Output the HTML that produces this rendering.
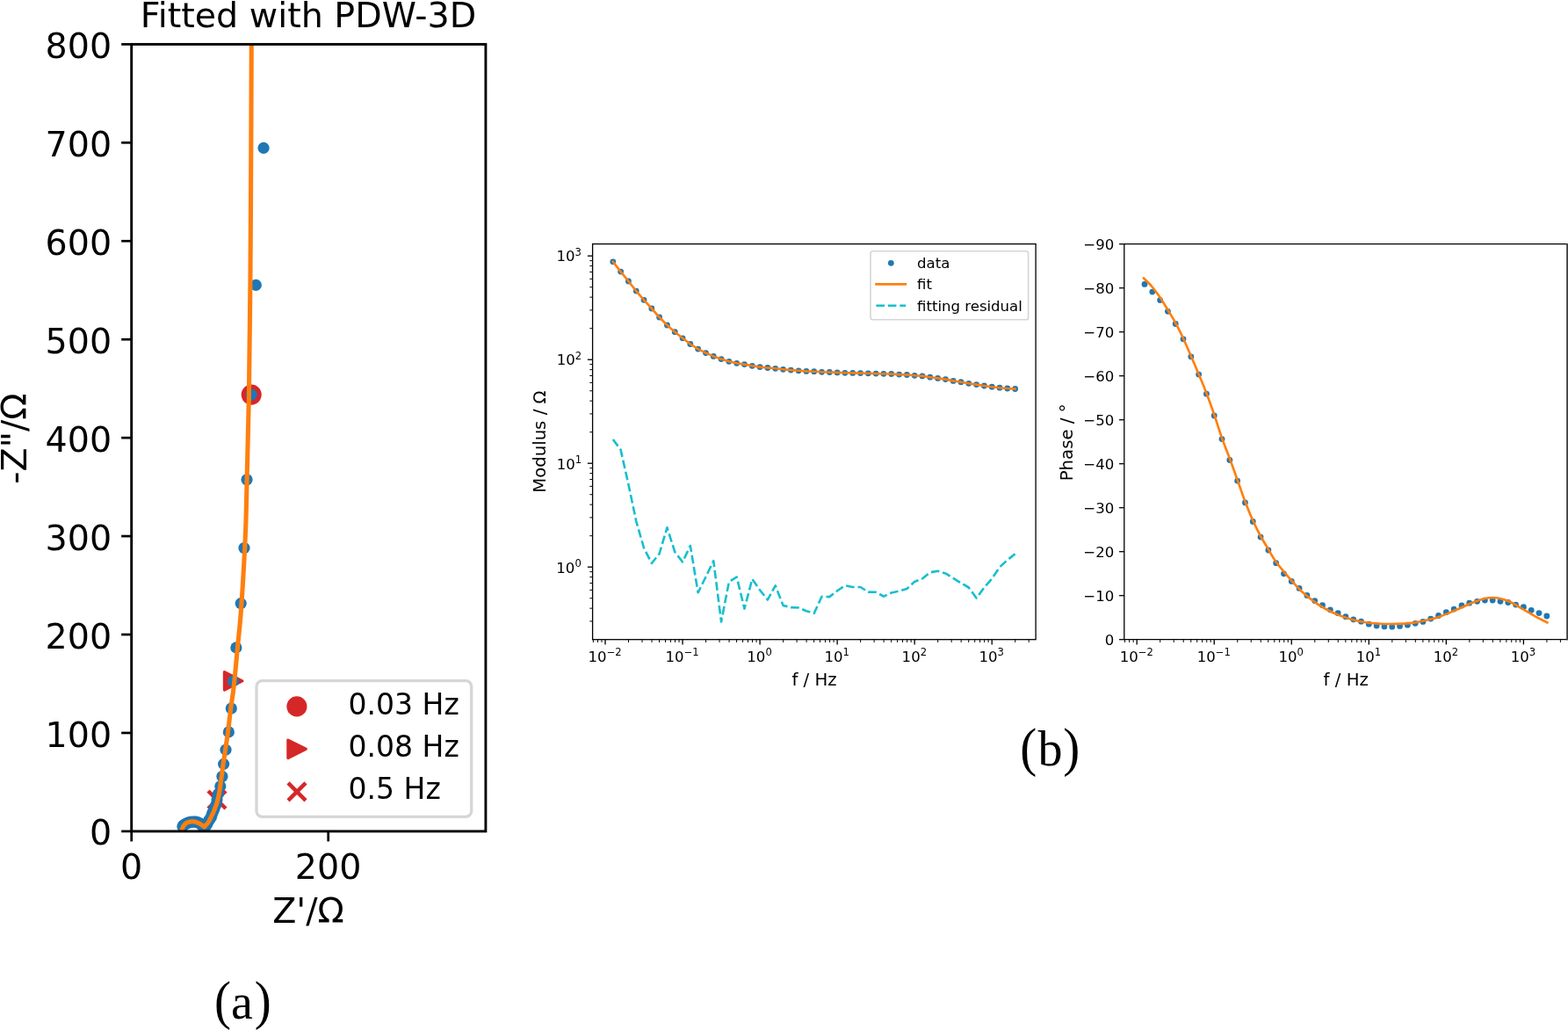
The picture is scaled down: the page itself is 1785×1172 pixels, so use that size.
<!DOCTYPE html>
<html><head><meta charset="utf-8"><title>Fitted with PDW-3D</title>
<style>html,body{margin:0;padding:0;background:#fff;}svg{display:block;}</style></head>
<body><svg width="1785" height="1172" viewBox="0 0 1785 1172">
<rect width="1785" height="1172" fill="#fff"/>
<defs>
<clipPath id="clipA"><rect x="149.7" y="50.4" width="403.2" height="895.5"/></clipPath>
<clipPath id="clipB1"><rect x="674.6" y="277.6" width="504.5" height="450.1"/></clipPath>
<clipPath id="clipB2"><rect x="1279.8000000000002" y="277.6" width="504.5" height="450.1"/></clipPath>
</defs>
<g clip-path="url(#clipA)">
<circle cx="286.2" cy="449.1" r="11.55" fill="#d62728"/>
<polygon points="255.5,764.7 255.5,785.1 275.8,774.9" fill="#d62728" stroke="#d62728" stroke-width="3.3" stroke-linejoin="round"/>
<line x1="237" y1="900" x2="257" y2="920" stroke="#d62728" stroke-width="4.4" />
<line x1="237" y1="920" x2="257" y2="900" stroke="#d62728" stroke-width="4.4" />
<circle cx="306.11" cy="-25.71" r="6.6" fill="#1f77b4"/>
<circle cx="300.05" cy="168.4" r="6.6" fill="#1f77b4"/>
<circle cx="291.3" cy="324.4" r="6.6" fill="#1f77b4"/>
<circle cx="286.2" cy="449.1" r="6.6" fill="#1f77b4"/>
<circle cx="281.02" cy="545.76" r="6.6" fill="#1f77b4"/>
<circle cx="278" cy="623.5" r="6.6" fill="#1f77b4"/>
<circle cx="274.2" cy="686.6" r="6.6" fill="#1f77b4"/>
<circle cx="268.87" cy="736.92" r="6.6" fill="#1f77b4"/>
<circle cx="265.6" cy="774.9" r="6.6" fill="#1f77b4"/>
<circle cx="263.31" cy="805.98" r="6.6" fill="#1f77b4"/>
<circle cx="260.35" cy="832.89" r="6.6" fill="#1f77b4"/>
<circle cx="257" cy="853.2" r="6.6" fill="#1f77b4"/>
<circle cx="254.63" cy="869.37" r="6.6" fill="#1f77b4"/>
<circle cx="252.92" cy="883.52" r="6.6" fill="#1f77b4"/>
<circle cx="250.81" cy="894.76" r="6.6" fill="#1f77b4"/>
<circle cx="248.42" cy="903.37" r="6.6" fill="#1f77b4"/>
<circle cx="247" cy="910" r="6.6" fill="#1f77b4"/>
<circle cx="245.89" cy="915.77" r="6.6" fill="#1f77b4"/>
<circle cx="243.9" cy="920.71" r="6.6" fill="#1f77b4"/>
<circle cx="242.23" cy="924.11" r="6.6" fill="#1f77b4"/>
<circle cx="241.18" cy="927.03" r="6.6" fill="#1f77b4"/>
<circle cx="240.26" cy="929.88" r="6.6" fill="#1f77b4"/>
<circle cx="238.82" cy="932.08" r="6.6" fill="#1f77b4"/>
<circle cx="237.67" cy="933.86" r="6.6" fill="#1f77b4"/>
<circle cx="236.67" cy="935.57" r="6.6" fill="#1f77b4"/>
<circle cx="235.79" cy="936.86" r="6.6" fill="#1f77b4"/>
<circle cx="235.41" cy="938.1" r="6.6" fill="#1f77b4"/>
<circle cx="234.49" cy="939.11" r="6.6" fill="#1f77b4"/>
<circle cx="234.21" cy="939.85" r="6.6" fill="#1f77b4"/>
<circle cx="233.61" cy="940.77" r="6.6" fill="#1f77b4"/>
<circle cx="232.99" cy="941.33" r="6.6" fill="#1f77b4"/>
<circle cx="232.84" cy="941.6" r="6.6" fill="#1f77b4"/>
<circle cx="232.52" cy="941.71" r="6.6" fill="#1f77b4"/>
<circle cx="232.19" cy="941.49" r="6.6" fill="#1f77b4"/>
<circle cx="231.69" cy="941.18" r="6.6" fill="#1f77b4"/>
<circle cx="231.34" cy="940.65" r="6.6" fill="#1f77b4"/>
<circle cx="230.98" cy="940.13" r="6.6" fill="#1f77b4"/>
<circle cx="229.96" cy="939.28" r="6.6" fill="#1f77b4"/>
<circle cx="229.25" cy="938.33" r="6.6" fill="#1f77b4"/>
<circle cx="227.91" cy="937.41" r="6.6" fill="#1f77b4"/>
<circle cx="226.89" cy="936.54" r="6.6" fill="#1f77b4"/>
<circle cx="224.82" cy="935.7" r="6.6" fill="#1f77b4"/>
<circle cx="222.98" cy="935.22" r="6.6" fill="#1f77b4"/>
<circle cx="221.21" cy="934.99" r="6.6" fill="#1f77b4"/>
<circle cx="218.7" cy="935.08" r="6.6" fill="#1f77b4"/>
<circle cx="216.97" cy="935.35" r="6.6" fill="#1f77b4"/>
<circle cx="214.95" cy="935.94" r="6.6" fill="#1f77b4"/>
<circle cx="213.35" cy="936.46" r="6.6" fill="#1f77b4"/>
<circle cx="211.72" cy="937.28" r="6.6" fill="#1f77b4"/>
<circle cx="210.36" cy="938.03" r="6.6" fill="#1f77b4"/>
<circle cx="209.28" cy="938.93" r="6.6" fill="#1f77b4"/>
<circle cx="208.43" cy="939.71" r="6.6" fill="#1f77b4"/>
<circle cx="207.93" cy="940.46" r="6.6" fill="#1f77b4"/>
<path d="M206.9,948 C206.95,947.42 206.93,945.78 207.2,944.5 C207.47,943.22 207.95,941.42 208.5,940.3 C209.05,939.18 209.75,938.5 210.5,937.8 C211.25,937.1 212.17,936.53 213,936.1 C213.83,935.67 214.67,935.42 215.5,935.2 C216.33,934.98 217.23,934.88 218,934.8 C218.77,934.72 219.35,934.62 220.1,934.7 C220.85,934.78 221.72,935.07 222.5,935.3 C223.28,935.53 224.05,935.8 224.8,936.1 C225.55,936.4 226.3,936.73 227,937.1 C227.7,937.47 228.33,937.87 229,938.3 C229.67,938.73 230.38,939.27 231,939.7 C231.62,940.13 232.42,940.7 232.7,940.9 C233.08,940.45 234.18,939.18 235,938.2 C235.82,937.22 236.73,936.4 237.6,935 C238.47,933.6 239.33,931.53 240.2,929.8 C241.07,928.07 242,926.43 242.8,924.6 C243.6,922.77 244.28,920.73 245,918.8 C245.72,916.87 246.32,915.88 247.1,913 C247.88,910.12 249,905.33 249.7,901.5 C250.4,897.67 250.78,893.58 251.3,890 C251.82,886.42 252.33,883.42 252.8,880 C253.27,876.58 253.48,873.93 254.1,869.5 C254.72,865.07 255.6,859.47 256.5,853.4 C257.4,847.33 258.47,840.95 259.5,833.1 C260.53,825.25 261.57,815.15 262.7,806.3 C263.83,797.45 264.98,791.88 266.3,780 C267.62,768.12 269.32,748.33 270.6,735 C271.88,721.67 272.9,714 274,700 C275.1,686 276.25,667.67 277.2,651 C278.15,634.33 279.05,617.5 279.7,600 C280.35,582.5 280.48,571 281.1,546 C281.72,521 282.77,486.83 283.4,450 C284.03,413.17 284.5,371.67 284.9,325 C285.3,278.33 285.57,217.5 285.8,170 C286.03,122.5 286.22,61.67 286.3,40" fill="none" stroke="#ff7f0e" stroke-width="5.1" stroke-linejoin="round"/>
</g>
<rect x="292.0" y="774.6" width="244.7" height="154.8" rx="6.6" ry="6.6" fill="#fff" fill-opacity="0.8" stroke="#d6d6d6" stroke-width="3.3"/>
<circle cx="337.9" cy="803.9" r="11.55" fill="#d62728"/>
<polygon points="327.9,842.1 327.9,862.5 348.2,852.3" fill="#d62728" stroke="#d62728" stroke-width="3.3" stroke-linejoin="round"/>
<line x1="328" y1="890.9" x2="348" y2="910.9" stroke="#d62728" stroke-width="4.4" />
<line x1="328" y1="910.9" x2="348" y2="890.9" stroke="#d62728" stroke-width="4.4" />
<text x="396.62" y="812.8" font-size="33" font-family="'DejaVu Sans', sans-serif" text-anchor="start" >0.03 Hz</text>
<text x="396.62" y="860.8" font-size="33" font-family="'DejaVu Sans', sans-serif" text-anchor="start" >0.08 Hz</text>
<text x="396.62" y="909.3" font-size="33" font-family="'DejaVu Sans', sans-serif" text-anchor="start" >0.5 Hz</text>
<rect x="149.7" y="50.4" width="403.2" height="895.5" fill="none" stroke="#000" stroke-width="2.9" stroke-linejoin="miter" stroke-linecap="square"/>
<line x1="138.15" y1="945.9" x2="149.7" y2="945.9" stroke="#000" stroke-width="2.7" />
<text x="101.93" y="961.45" font-size="39.6" font-family="'DejaVu Sans', sans-serif" text-anchor="start" >0</text>
<line x1="138.15" y1="833.96" x2="149.7" y2="833.96" stroke="#000" stroke-width="2.7" />
<text x="51.55" y="849.52" font-size="39.6" font-family="'DejaVu Sans', sans-serif" text-anchor="start" >100</text>
<line x1="138.15" y1="722.02" x2="149.7" y2="722.02" stroke="#000" stroke-width="2.7" />
<text x="51.55" y="737.58" font-size="39.6" font-family="'DejaVu Sans', sans-serif" text-anchor="start" >200</text>
<line x1="138.15" y1="610.09" x2="149.7" y2="610.09" stroke="#000" stroke-width="2.7" />
<text x="51.55" y="625.64" font-size="39.6" font-family="'DejaVu Sans', sans-serif" text-anchor="start" >300</text>
<line x1="138.15" y1="498.15" x2="149.7" y2="498.15" stroke="#000" stroke-width="2.7" />
<text x="51.55" y="513.7" font-size="39.6" font-family="'DejaVu Sans', sans-serif" text-anchor="start" >400</text>
<line x1="138.15" y1="386.21" x2="149.7" y2="386.21" stroke="#000" stroke-width="2.7" />
<text x="51.55" y="401.77" font-size="39.6" font-family="'DejaVu Sans', sans-serif" text-anchor="start" >500</text>
<line x1="138.15" y1="274.27" x2="149.7" y2="274.27" stroke="#000" stroke-width="2.7" />
<text x="51.55" y="289.83" font-size="39.6" font-family="'DejaVu Sans', sans-serif" text-anchor="start" >600</text>
<line x1="138.15" y1="162.34" x2="149.7" y2="162.34" stroke="#000" stroke-width="2.7" />
<text x="51.55" y="177.89" font-size="39.6" font-family="'DejaVu Sans', sans-serif" text-anchor="start" >700</text>
<line x1="138.15" y1="50.4" x2="149.7" y2="50.4" stroke="#000" stroke-width="2.7" />
<text x="51.55" y="65.95" font-size="39.6" font-family="'DejaVu Sans', sans-serif" text-anchor="start" >800</text>
<line x1="149.7" y1="945.9" x2="149.7" y2="957.45" stroke="#000" stroke-width="2.7" />
<text x="137.11" y="999.7" font-size="39.6" font-family="'DejaVu Sans', sans-serif" text-anchor="start" >0</text>
<line x1="373.7" y1="945.9" x2="373.7" y2="957.45" stroke="#000" stroke-width="2.7" />
<text x="335.77" y="999.7" font-size="39.6" font-family="'DejaVu Sans', sans-serif" text-anchor="start" >200</text>
<text x="310.16" y="1049.8" font-size="39.6" font-family="'DejaVu Sans', sans-serif" text-anchor="start" >Z'/Ω</text>
<text transform="translate(30.1,550.68) rotate(-90)" font-size="39.6" font-family="'DejaVu Sans', sans-serif">-Z&quot;/Ω</text>
<text x="159.81" y="30.6" font-size="39.6" font-family="'DejaVu Sans', sans-serif" text-anchor="start" >Fitted with PDW-3D</text>
<g clip-path="url(#clipB1)">
<circle cx="697.8" cy="297.8" r="3.4" fill="#1f77b4"/>
<circle cx="706.61" cy="309.1" r="3.4" fill="#1f77b4"/>
<circle cx="715.41" cy="320" r="3.4" fill="#1f77b4"/>
<circle cx="724.22" cy="331.1" r="3.4" fill="#1f77b4"/>
<circle cx="733.02" cy="341.3" r="3.4" fill="#1f77b4"/>
<circle cx="741.82" cy="351" r="3.4" fill="#1f77b4"/>
<circle cx="750.63" cy="361" r="3.4" fill="#1f77b4"/>
<circle cx="759.43" cy="370" r="3.4" fill="#1f77b4"/>
<circle cx="768.24" cy="377.7" r="3.4" fill="#1f77b4"/>
<circle cx="777.04" cy="384.8" r="3.4" fill="#1f77b4"/>
<circle cx="785.84" cy="391.5" r="3.4" fill="#1f77b4"/>
<circle cx="794.65" cy="397.1" r="3.4" fill="#1f77b4"/>
<circle cx="803.45" cy="401.6" r="3.4" fill="#1f77b4"/>
<circle cx="812.26" cy="405.4" r="3.4" fill="#1f77b4"/>
<circle cx="821.06" cy="408.6" r="3.4" fill="#1f77b4"/>
<circle cx="829.86" cy="411.3" r="3.4" fill="#1f77b4"/>
<circle cx="838.67" cy="413.3" r="3.4" fill="#1f77b4"/>
<circle cx="847.47" cy="414.6" r="3.4" fill="#1f77b4"/>
<circle cx="856.28" cy="416.3" r="3.4" fill="#1f77b4"/>
<circle cx="865.08" cy="417.6" r="3.4" fill="#1f77b4"/>
<circle cx="873.88" cy="418.5" r="3.4" fill="#1f77b4"/>
<circle cx="882.69" cy="419.3" r="3.4" fill="#1f77b4"/>
<circle cx="891.49" cy="420.3" r="3.4" fill="#1f77b4"/>
<circle cx="900.3" cy="421.1" r="3.4" fill="#1f77b4"/>
<circle cx="909.1" cy="421.8" r="3.4" fill="#1f77b4"/>
<circle cx="917.9" cy="422.4" r="3.4" fill="#1f77b4"/>
<circle cx="926.71" cy="422.7" r="3.4" fill="#1f77b4"/>
<circle cx="935.51" cy="423.3" r="3.4" fill="#1f77b4"/>
<circle cx="944.32" cy="423.5" r="3.4" fill="#1f77b4"/>
<circle cx="953.12" cy="423.9" r="3.4" fill="#1f77b4"/>
<circle cx="961.92" cy="424.3" r="3.4" fill="#1f77b4"/>
<circle cx="970.73" cy="424.4" r="3.4" fill="#1f77b4"/>
<circle cx="979.53" cy="424.6" r="3.4" fill="#1f77b4"/>
<circle cx="988.34" cy="424.8" r="3.4" fill="#1f77b4"/>
<circle cx="997.14" cy="425.1" r="3.4" fill="#1f77b4"/>
<circle cx="1005.94" cy="425.3" r="3.4" fill="#1f77b4"/>
<circle cx="1014.75" cy="425.5" r="3.4" fill="#1f77b4"/>
<circle cx="1023.55" cy="426.1" r="3.4" fill="#1f77b4"/>
<circle cx="1032.36" cy="426.5" r="3.4" fill="#1f77b4"/>
<circle cx="1041.16" cy="427.3" r="3.4" fill="#1f77b4"/>
<circle cx="1049.96" cy="427.9" r="3.4" fill="#1f77b4"/>
<circle cx="1058.77" cy="429.2" r="3.4" fill="#1f77b4"/>
<circle cx="1067.57" cy="430.4" r="3.4" fill="#1f77b4"/>
<circle cx="1076.38" cy="431.6" r="3.4" fill="#1f77b4"/>
<circle cx="1085.18" cy="433.4" r="3.4" fill="#1f77b4"/>
<circle cx="1093.98" cy="434.7" r="3.4" fill="#1f77b4"/>
<circle cx="1102.79" cy="436.3" r="3.4" fill="#1f77b4"/>
<circle cx="1111.59" cy="437.6" r="3.4" fill="#1f77b4"/>
<circle cx="1120.4" cy="439" r="3.4" fill="#1f77b4"/>
<circle cx="1129.2" cy="440.2" r="3.4" fill="#1f77b4"/>
<circle cx="1138" cy="441.2" r="3.4" fill="#1f77b4"/>
<circle cx="1146.81" cy="442" r="3.4" fill="#1f77b4"/>
<circle cx="1155.61" cy="442.5" r="3.4" fill="#1f77b4"/>
<polyline points="697.8,297.8 706.61,309.1 715.41,320 724.22,331.1 733.02,341.3 741.82,351 750.63,361 759.43,370 768.24,377.7 777.04,384.8 785.84,391.5 794.65,397.1 803.45,401.6 812.26,405.4 821.06,408.6 829.86,411.3 838.67,413.3 847.47,414.6 856.28,416.3 865.08,417.6 873.88,418.5 882.69,419.3 891.49,420.3 900.3,421.1 909.1,421.8 917.9,422.4 926.71,422.7 935.51,423.3 944.32,423.5 953.12,423.9 961.92,424.3 970.73,424.4 979.53,424.6 988.34,424.8 997.14,425.1 1005.94,425.3 1014.75,425.5 1023.55,426.1 1032.36,426.5 1041.16,427.3 1049.96,427.9 1058.77,429.2 1067.57,430.4 1076.38,431.6 1085.18,433.4 1093.98,434.7 1102.79,436.3 1111.59,437.6 1120.4,439 1129.2,440.2 1138,441.2 1146.81,442 1155.61,442.5" fill="none" stroke="#ff7f0e" stroke-width="2.65" stroke-linejoin="round" stroke-linecap="square"/>
<polyline points="697.8,499.9 706.61,511.8 715.41,551 724.22,593 733.02,623.5 741.82,641 750.63,630 759.43,600.3 768.24,628 777.04,639.4 785.84,621 794.65,674.3 803.45,656.5 812.26,638.2 821.06,707.5 829.86,662.1 838.67,656.5 847.47,692.6 856.28,658.8 865.08,671.5 873.88,682.5 882.69,666.3 891.49,688.9 900.3,691.1 909.1,691.5 917.9,695.3 926.71,697.9 935.51,678.7 944.32,679.1 953.12,672.3 961.92,666.3 970.73,668 979.53,668 988.34,673.6 997.14,673.8 1005.94,678.6 1014.75,674.5 1023.55,672.5 1032.36,670 1041.16,661.9 1049.96,658.4 1058.77,651.3 1067.57,649.8 1076.38,652.4 1085.18,657.9 1093.98,663.4 1102.79,668.5 1111.59,680.6 1120.4,668.5 1129.2,658.4 1138,645.3 1146.81,637.2 1155.61,630.2" fill="none" stroke="#17becf" stroke-width="2.6" stroke-linejoin="round" stroke-dasharray="9.6 3.85"/>
</g>
<g clip-path="url(#clipB2)">
<circle cx="1303" cy="323.4" r="3.4" fill="#1f77b4"/>
<circle cx="1311.81" cy="332.1" r="3.4" fill="#1f77b4"/>
<circle cx="1320.61" cy="341.6" r="3.4" fill="#1f77b4"/>
<circle cx="1329.42" cy="354.3" r="3.4" fill="#1f77b4"/>
<circle cx="1338.22" cy="368.5" r="3.4" fill="#1f77b4"/>
<circle cx="1347.02" cy="385.8" r="3.4" fill="#1f77b4"/>
<circle cx="1355.83" cy="405.8" r="3.4" fill="#1f77b4"/>
<circle cx="1364.63" cy="426.1" r="3.4" fill="#1f77b4"/>
<circle cx="1373.44" cy="448.2" r="3.4" fill="#1f77b4"/>
<circle cx="1382.24" cy="473" r="3.4" fill="#1f77b4"/>
<circle cx="1391.04" cy="499.6" r="3.4" fill="#1f77b4"/>
<circle cx="1399.85" cy="523.5" r="3.4" fill="#1f77b4"/>
<circle cx="1408.65" cy="547.1" r="3.4" fill="#1f77b4"/>
<circle cx="1417.46" cy="571.9" r="3.4" fill="#1f77b4"/>
<circle cx="1426.26" cy="593.5" r="3.4" fill="#1f77b4"/>
<circle cx="1435.06" cy="611.1" r="3.4" fill="#1f77b4"/>
<circle cx="1443.87" cy="626" r="3.4" fill="#1f77b4"/>
<circle cx="1452.67" cy="640.7" r="3.4" fill="#1f77b4"/>
<circle cx="1461.48" cy="652.8" r="3.4" fill="#1f77b4"/>
<circle cx="1470.28" cy="661.4" r="3.4" fill="#1f77b4"/>
<circle cx="1479.08" cy="669.4" r="3.4" fill="#1f77b4"/>
<circle cx="1487.89" cy="677.5" r="3.4" fill="#1f77b4"/>
<circle cx="1496.69" cy="683.6" r="3.4" fill="#1f77b4"/>
<circle cx="1505.5" cy="688.7" r="3.4" fill="#1f77b4"/>
<circle cx="1514.3" cy="693.8" r="3.4" fill="#1f77b4"/>
<circle cx="1523.1" cy="697.7" r="3.4" fill="#1f77b4"/>
<circle cx="1531.91" cy="701.7" r="3.4" fill="#1f77b4"/>
<circle cx="1540.71" cy="704.8" r="3.4" fill="#1f77b4"/>
<circle cx="1549.52" cy="707.2" r="3.4" fill="#1f77b4"/>
<circle cx="1558.32" cy="710.2" r="3.4" fill="#1f77b4"/>
<circle cx="1567.12" cy="712" r="3.4" fill="#1f77b4"/>
<circle cx="1575.93" cy="712.9" r="3.4" fill="#1f77b4"/>
<circle cx="1584.73" cy="713.2" r="3.4" fill="#1f77b4"/>
<circle cx="1593.54" cy="712.4" r="3.4" fill="#1f77b4"/>
<circle cx="1602.34" cy="711.2" r="3.4" fill="#1f77b4"/>
<circle cx="1611.14" cy="709.3" r="3.4" fill="#1f77b4"/>
<circle cx="1619.95" cy="707.4" r="3.4" fill="#1f77b4"/>
<circle cx="1628.75" cy="704.1" r="3.4" fill="#1f77b4"/>
<circle cx="1637.56" cy="700.5" r="3.4" fill="#1f77b4"/>
<circle cx="1646.36" cy="696.7" r="3.4" fill="#1f77b4"/>
<circle cx="1655.16" cy="693.1" r="3.4" fill="#1f77b4"/>
<circle cx="1663.97" cy="689" r="3.4" fill="#1f77b4"/>
<circle cx="1672.77" cy="686.2" r="3.4" fill="#1f77b4"/>
<circle cx="1681.58" cy="684.3" r="3.4" fill="#1f77b4"/>
<circle cx="1690.38" cy="683.1" r="3.4" fill="#1f77b4"/>
<circle cx="1699.18" cy="683.1" r="3.4" fill="#1f77b4"/>
<circle cx="1707.99" cy="684.3" r="3.4" fill="#1f77b4"/>
<circle cx="1716.79" cy="685.5" r="3.4" fill="#1f77b4"/>
<circle cx="1725.6" cy="688.1" r="3.4" fill="#1f77b4"/>
<circle cx="1734.4" cy="690.7" r="3.4" fill="#1f77b4"/>
<circle cx="1743.2" cy="694.3" r="3.4" fill="#1f77b4"/>
<circle cx="1752.01" cy="697.6" r="3.4" fill="#1f77b4"/>
<circle cx="1760.81" cy="701" r="3.4" fill="#1f77b4"/>
<path d="M1302,316.5 C1303.55,318.08 1308.3,322.48 1311.3,326 C1314.3,329.52 1317.03,333.25 1320,337.6 C1322.97,341.95 1326.13,347.27 1329.1,352.1 C1332.07,356.93 1334.9,361.28 1337.8,366.6 C1340.7,371.92 1343.6,377.83 1346.5,384 C1349.4,390.17 1352.25,396.82 1355.2,403.6 C1358.15,410.38 1361.22,417.55 1364.2,424.7 C1367.18,431.85 1370.13,438.78 1373.1,446.5 C1376.07,454.22 1379.07,462.5 1382,471 C1384.93,479.5 1387.73,489.08 1390.7,497.5 C1393.67,505.92 1396.87,513.58 1399.8,521.5 C1402.73,529.42 1405.4,536.92 1408.3,545 C1411.2,553.08 1414.27,562.25 1417.2,570 C1420.13,577.75 1422.97,584.92 1425.9,591.5 C1428.83,598.08 1431.85,604 1434.8,609.5 C1437.75,615 1440.67,619.58 1443.6,624.5 C1446.53,629.42 1449,634.2 1452.4,639 C1455.8,643.8 1459.08,647.63 1464,653.3 C1468.92,658.97 1475.93,667.33 1481.9,673 C1487.87,678.67 1493.83,683.27 1499.8,687.3 C1505.77,691.33 1511.73,694.43 1517.7,697.2 C1523.67,699.97 1529.62,702.1 1535.6,703.9 C1541.58,705.7 1547.62,707.03 1553.6,708 C1559.58,708.97 1565.53,709.38 1571.5,709.7 C1577.47,710.02 1583.43,710.03 1589.4,709.9 C1595.37,709.77 1602.37,709.43 1607.3,708.9 C1612.23,708.37 1613.87,707.87 1619,706.7 C1624.13,705.53 1631.75,703.97 1638.1,701.9 C1644.45,699.83 1650.75,697 1657.1,694.3 C1663.45,691.6 1670.63,687.92 1676.2,685.7 C1681.77,683.48 1686.7,681.95 1690.5,681 C1694.3,680.05 1696.15,680 1699,680 C1701.85,680 1704.27,680.2 1707.6,681 C1710.93,681.8 1714.72,682.82 1719,684.8 C1723.28,686.78 1728.53,690.13 1733.3,692.9 C1738.07,695.67 1742.92,698.82 1747.6,701.4 C1752.28,703.98 1759.1,707.23 1761.4,708.4" fill="none" stroke="#ff7f0e" stroke-width="2.65" stroke-linejoin="round" stroke-linecap="square"/>
</g>
<rect x="991.0" y="285.75" width="179.6" height="77.95" rx="2.8" ry="2.8" fill="#fff" fill-opacity="0.8" stroke="#d6d6d6" stroke-width="1.64"/>
<circle cx="1014.3" cy="299.3" r="3.4" fill="#1f77b4"/>
<line x1="997.6" y1="323.4" x2="1030.8" y2="323.4" stroke="#ff7f0e" stroke-width="2.7" stroke-linecap="square"/>
<line x1="997.4" y1="347.7" x2="1031.2" y2="347.7" stroke="#17becf" stroke-width="2.6" stroke-dasharray="9.6 3.85"/>
<text x="1044.1" y="304.9" font-size="16.55" font-family="'DejaVu Sans', sans-serif" text-anchor="start" >data</text>
<text x="1044.1" y="329.2" font-size="16.55" font-family="'DejaVu Sans', sans-serif" text-anchor="start" >fit</text>
<text x="1044.1" y="353.5" font-size="16.55" font-family="'DejaVu Sans', sans-serif" text-anchor="start" >fitting residual</text>
<rect x="674.6" y="277.6" width="504.5" height="450.1" fill="none" stroke="#000" stroke-width="1.31" stroke-linejoin="miter" stroke-linecap="square"/>
<line x1="675.36" y1="727.7" x2="675.36" y2="730.98" stroke="#000" stroke-width="0.98" />
<line x1="680.47" y1="727.7" x2="680.47" y2="730.98" stroke="#000" stroke-width="0.98" />
<line x1="684.97" y1="727.7" x2="684.97" y2="730.98" stroke="#000" stroke-width="0.98" />
<line x1="689" y1="727.7" x2="689" y2="733.44" stroke="#000" stroke-width="1.31" />
<line x1="715.5" y1="727.7" x2="715.5" y2="730.98" stroke="#000" stroke-width="0.98" />
<line x1="731.01" y1="727.7" x2="731.01" y2="730.98" stroke="#000" stroke-width="0.98" />
<line x1="742.01" y1="727.7" x2="742.01" y2="730.98" stroke="#000" stroke-width="0.98" />
<line x1="750.54" y1="727.7" x2="750.54" y2="730.98" stroke="#000" stroke-width="0.98" />
<line x1="757.51" y1="727.7" x2="757.51" y2="730.98" stroke="#000" stroke-width="0.98" />
<line x1="763.4" y1="727.7" x2="763.4" y2="730.98" stroke="#000" stroke-width="0.98" />
<line x1="768.51" y1="727.7" x2="768.51" y2="730.98" stroke="#000" stroke-width="0.98" />
<line x1="773.01" y1="727.7" x2="773.01" y2="730.98" stroke="#000" stroke-width="0.98" />
<line x1="777.04" y1="727.7" x2="777.04" y2="733.44" stroke="#000" stroke-width="1.31" />
<line x1="803.54" y1="727.7" x2="803.54" y2="730.98" stroke="#000" stroke-width="0.98" />
<line x1="819.05" y1="727.7" x2="819.05" y2="730.98" stroke="#000" stroke-width="0.98" />
<line x1="830.05" y1="727.7" x2="830.05" y2="730.98" stroke="#000" stroke-width="0.98" />
<line x1="838.58" y1="727.7" x2="838.58" y2="730.98" stroke="#000" stroke-width="0.98" />
<line x1="845.55" y1="727.7" x2="845.55" y2="730.98" stroke="#000" stroke-width="0.98" />
<line x1="851.44" y1="727.7" x2="851.44" y2="730.98" stroke="#000" stroke-width="0.98" />
<line x1="856.55" y1="727.7" x2="856.55" y2="730.98" stroke="#000" stroke-width="0.98" />
<line x1="861.05" y1="727.7" x2="861.05" y2="730.98" stroke="#000" stroke-width="0.98" />
<line x1="865.08" y1="727.7" x2="865.08" y2="733.44" stroke="#000" stroke-width="1.31" />
<line x1="891.58" y1="727.7" x2="891.58" y2="730.98" stroke="#000" stroke-width="0.98" />
<line x1="907.09" y1="727.7" x2="907.09" y2="730.98" stroke="#000" stroke-width="0.98" />
<line x1="918.09" y1="727.7" x2="918.09" y2="730.98" stroke="#000" stroke-width="0.98" />
<line x1="926.62" y1="727.7" x2="926.62" y2="730.98" stroke="#000" stroke-width="0.98" />
<line x1="933.59" y1="727.7" x2="933.59" y2="730.98" stroke="#000" stroke-width="0.98" />
<line x1="939.48" y1="727.7" x2="939.48" y2="730.98" stroke="#000" stroke-width="0.98" />
<line x1="944.59" y1="727.7" x2="944.59" y2="730.98" stroke="#000" stroke-width="0.98" />
<line x1="949.09" y1="727.7" x2="949.09" y2="730.98" stroke="#000" stroke-width="0.98" />
<line x1="953.12" y1="727.7" x2="953.12" y2="733.44" stroke="#000" stroke-width="1.31" />
<line x1="979.62" y1="727.7" x2="979.62" y2="730.98" stroke="#000" stroke-width="0.98" />
<line x1="995.13" y1="727.7" x2="995.13" y2="730.98" stroke="#000" stroke-width="0.98" />
<line x1="1006.13" y1="727.7" x2="1006.13" y2="730.98" stroke="#000" stroke-width="0.98" />
<line x1="1014.66" y1="727.7" x2="1014.66" y2="730.98" stroke="#000" stroke-width="0.98" />
<line x1="1021.63" y1="727.7" x2="1021.63" y2="730.98" stroke="#000" stroke-width="0.98" />
<line x1="1027.52" y1="727.7" x2="1027.52" y2="730.98" stroke="#000" stroke-width="0.98" />
<line x1="1032.63" y1="727.7" x2="1032.63" y2="730.98" stroke="#000" stroke-width="0.98" />
<line x1="1037.13" y1="727.7" x2="1037.13" y2="730.98" stroke="#000" stroke-width="0.98" />
<line x1="1041.16" y1="727.7" x2="1041.16" y2="733.44" stroke="#000" stroke-width="1.31" />
<line x1="1067.66" y1="727.7" x2="1067.66" y2="730.98" stroke="#000" stroke-width="0.98" />
<line x1="1083.17" y1="727.7" x2="1083.17" y2="730.98" stroke="#000" stroke-width="0.98" />
<line x1="1094.17" y1="727.7" x2="1094.17" y2="730.98" stroke="#000" stroke-width="0.98" />
<line x1="1102.7" y1="727.7" x2="1102.7" y2="730.98" stroke="#000" stroke-width="0.98" />
<line x1="1109.67" y1="727.7" x2="1109.67" y2="730.98" stroke="#000" stroke-width="0.98" />
<line x1="1115.56" y1="727.7" x2="1115.56" y2="730.98" stroke="#000" stroke-width="0.98" />
<line x1="1120.67" y1="727.7" x2="1120.67" y2="730.98" stroke="#000" stroke-width="0.98" />
<line x1="1125.17" y1="727.7" x2="1125.17" y2="730.98" stroke="#000" stroke-width="0.98" />
<line x1="1129.2" y1="727.7" x2="1129.2" y2="733.44" stroke="#000" stroke-width="1.31" />
<line x1="1155.7" y1="727.7" x2="1155.7" y2="730.98" stroke="#000" stroke-width="0.98" />
<line x1="1171.21" y1="727.7" x2="1171.21" y2="730.98" stroke="#000" stroke-width="0.98" />
<text x="669.6" y="752.85" font-size="16.55" font-family="'DejaVu Sans', sans-serif">10<tspan dy="-6.6" font-size="11.58">−2</tspan></text>
<text x="757.6" y="752.85" font-size="16.55" font-family="'DejaVu Sans', sans-serif">10<tspan dy="-6.6" font-size="11.58">−1</tspan></text>
<text x="850.34" y="752.85" font-size="16.55" font-family="'DejaVu Sans', sans-serif">10<tspan dy="-6.6" font-size="11.58">0</tspan></text>
<text x="938.53" y="752.85" font-size="16.55" font-family="'DejaVu Sans', sans-serif">10<tspan dy="-6.6" font-size="11.58">1</tspan></text>
<text x="1026.62" y="752.85" font-size="16.55" font-family="'DejaVu Sans', sans-serif">10<tspan dy="-6.6" font-size="11.58">2</tspan></text>
<text x="1114.54" y="752.85" font-size="16.55" font-family="'DejaVu Sans', sans-serif">10<tspan dy="-6.6" font-size="11.58">3</tspan></text>
<text x="901.42" y="779.7" font-size="19.7" font-family="'DejaVu Sans', sans-serif" text-anchor="start" >f / Hz</text>
<path d="M1785,277.6 H1279.8 V727.7 H1785" fill="none" stroke="#000" stroke-width="1.31" stroke-linejoin="miter"/>
<line x1="1784.1" y1="276.95" x2="1784.1" y2="728.35" stroke="#404040" stroke-width="1.9" />
<line x1="1280.56" y1="727.7" x2="1280.56" y2="730.98" stroke="#000" stroke-width="0.98" />
<line x1="1285.67" y1="727.7" x2="1285.67" y2="730.98" stroke="#000" stroke-width="0.98" />
<line x1="1290.17" y1="727.7" x2="1290.17" y2="730.98" stroke="#000" stroke-width="0.98" />
<line x1="1294.2" y1="727.7" x2="1294.2" y2="733.44" stroke="#000" stroke-width="1.31" />
<line x1="1320.7" y1="727.7" x2="1320.7" y2="730.98" stroke="#000" stroke-width="0.98" />
<line x1="1336.21" y1="727.7" x2="1336.21" y2="730.98" stroke="#000" stroke-width="0.98" />
<line x1="1347.21" y1="727.7" x2="1347.21" y2="730.98" stroke="#000" stroke-width="0.98" />
<line x1="1355.74" y1="727.7" x2="1355.74" y2="730.98" stroke="#000" stroke-width="0.98" />
<line x1="1362.71" y1="727.7" x2="1362.71" y2="730.98" stroke="#000" stroke-width="0.98" />
<line x1="1368.6" y1="727.7" x2="1368.6" y2="730.98" stroke="#000" stroke-width="0.98" />
<line x1="1373.71" y1="727.7" x2="1373.71" y2="730.98" stroke="#000" stroke-width="0.98" />
<line x1="1378.21" y1="727.7" x2="1378.21" y2="730.98" stroke="#000" stroke-width="0.98" />
<line x1="1382.24" y1="727.7" x2="1382.24" y2="733.44" stroke="#000" stroke-width="1.31" />
<line x1="1408.74" y1="727.7" x2="1408.74" y2="730.98" stroke="#000" stroke-width="0.98" />
<line x1="1424.25" y1="727.7" x2="1424.25" y2="730.98" stroke="#000" stroke-width="0.98" />
<line x1="1435.25" y1="727.7" x2="1435.25" y2="730.98" stroke="#000" stroke-width="0.98" />
<line x1="1443.78" y1="727.7" x2="1443.78" y2="730.98" stroke="#000" stroke-width="0.98" />
<line x1="1450.75" y1="727.7" x2="1450.75" y2="730.98" stroke="#000" stroke-width="0.98" />
<line x1="1456.64" y1="727.7" x2="1456.64" y2="730.98" stroke="#000" stroke-width="0.98" />
<line x1="1461.75" y1="727.7" x2="1461.75" y2="730.98" stroke="#000" stroke-width="0.98" />
<line x1="1466.25" y1="727.7" x2="1466.25" y2="730.98" stroke="#000" stroke-width="0.98" />
<line x1="1470.28" y1="727.7" x2="1470.28" y2="733.44" stroke="#000" stroke-width="1.31" />
<line x1="1496.78" y1="727.7" x2="1496.78" y2="730.98" stroke="#000" stroke-width="0.98" />
<line x1="1512.29" y1="727.7" x2="1512.29" y2="730.98" stroke="#000" stroke-width="0.98" />
<line x1="1523.29" y1="727.7" x2="1523.29" y2="730.98" stroke="#000" stroke-width="0.98" />
<line x1="1531.82" y1="727.7" x2="1531.82" y2="730.98" stroke="#000" stroke-width="0.98" />
<line x1="1538.79" y1="727.7" x2="1538.79" y2="730.98" stroke="#000" stroke-width="0.98" />
<line x1="1544.68" y1="727.7" x2="1544.68" y2="730.98" stroke="#000" stroke-width="0.98" />
<line x1="1549.79" y1="727.7" x2="1549.79" y2="730.98" stroke="#000" stroke-width="0.98" />
<line x1="1554.29" y1="727.7" x2="1554.29" y2="730.98" stroke="#000" stroke-width="0.98" />
<line x1="1558.32" y1="727.7" x2="1558.32" y2="733.44" stroke="#000" stroke-width="1.31" />
<line x1="1584.82" y1="727.7" x2="1584.82" y2="730.98" stroke="#000" stroke-width="0.98" />
<line x1="1600.33" y1="727.7" x2="1600.33" y2="730.98" stroke="#000" stroke-width="0.98" />
<line x1="1611.33" y1="727.7" x2="1611.33" y2="730.98" stroke="#000" stroke-width="0.98" />
<line x1="1619.86" y1="727.7" x2="1619.86" y2="730.98" stroke="#000" stroke-width="0.98" />
<line x1="1626.83" y1="727.7" x2="1626.83" y2="730.98" stroke="#000" stroke-width="0.98" />
<line x1="1632.72" y1="727.7" x2="1632.72" y2="730.98" stroke="#000" stroke-width="0.98" />
<line x1="1637.83" y1="727.7" x2="1637.83" y2="730.98" stroke="#000" stroke-width="0.98" />
<line x1="1642.33" y1="727.7" x2="1642.33" y2="730.98" stroke="#000" stroke-width="0.98" />
<line x1="1646.36" y1="727.7" x2="1646.36" y2="733.44" stroke="#000" stroke-width="1.31" />
<line x1="1672.86" y1="727.7" x2="1672.86" y2="730.98" stroke="#000" stroke-width="0.98" />
<line x1="1688.37" y1="727.7" x2="1688.37" y2="730.98" stroke="#000" stroke-width="0.98" />
<line x1="1699.37" y1="727.7" x2="1699.37" y2="730.98" stroke="#000" stroke-width="0.98" />
<line x1="1707.9" y1="727.7" x2="1707.9" y2="730.98" stroke="#000" stroke-width="0.98" />
<line x1="1714.87" y1="727.7" x2="1714.87" y2="730.98" stroke="#000" stroke-width="0.98" />
<line x1="1720.76" y1="727.7" x2="1720.76" y2="730.98" stroke="#000" stroke-width="0.98" />
<line x1="1725.87" y1="727.7" x2="1725.87" y2="730.98" stroke="#000" stroke-width="0.98" />
<line x1="1730.37" y1="727.7" x2="1730.37" y2="730.98" stroke="#000" stroke-width="0.98" />
<line x1="1734.4" y1="727.7" x2="1734.4" y2="733.44" stroke="#000" stroke-width="1.31" />
<line x1="1760.9" y1="727.7" x2="1760.9" y2="730.98" stroke="#000" stroke-width="0.98" />
<line x1="1776.41" y1="727.7" x2="1776.41" y2="730.98" stroke="#000" stroke-width="0.98" />
<text x="1274.8" y="752.85" font-size="16.55" font-family="'DejaVu Sans', sans-serif">10<tspan dy="-6.6" font-size="11.58">−2</tspan></text>
<text x="1362.8" y="752.85" font-size="16.55" font-family="'DejaVu Sans', sans-serif">10<tspan dy="-6.6" font-size="11.58">−1</tspan></text>
<text x="1455.54" y="752.85" font-size="16.55" font-family="'DejaVu Sans', sans-serif">10<tspan dy="-6.6" font-size="11.58">0</tspan></text>
<text x="1543.73" y="752.85" font-size="16.55" font-family="'DejaVu Sans', sans-serif">10<tspan dy="-6.6" font-size="11.58">1</tspan></text>
<text x="1631.82" y="752.85" font-size="16.55" font-family="'DejaVu Sans', sans-serif">10<tspan dy="-6.6" font-size="11.58">2</tspan></text>
<text x="1719.74" y="752.85" font-size="16.55" font-family="'DejaVu Sans', sans-serif">10<tspan dy="-6.6" font-size="11.58">3</tspan></text>
<text x="1506.62" y="779.7" font-size="19.7" font-family="'DejaVu Sans', sans-serif" text-anchor="start" >f / Hz</text>
<line x1="671.32" y1="706.9" x2="674.6" y2="706.9" stroke="#000" stroke-width="0.98" />
<line x1="671.32" y1="692.16" x2="674.6" y2="692.16" stroke="#000" stroke-width="0.98" />
<line x1="671.32" y1="680.72" x2="674.6" y2="680.72" stroke="#000" stroke-width="0.98" />
<line x1="671.32" y1="671.38" x2="674.6" y2="671.38" stroke="#000" stroke-width="0.98" />
<line x1="671.32" y1="663.48" x2="674.6" y2="663.48" stroke="#000" stroke-width="0.98" />
<line x1="671.32" y1="656.64" x2="674.6" y2="656.64" stroke="#000" stroke-width="0.98" />
<line x1="671.32" y1="650.6" x2="674.6" y2="650.6" stroke="#000" stroke-width="0.98" />
<line x1="668.86" y1="645.2" x2="674.6" y2="645.2" stroke="#000" stroke-width="1.31" />
<line x1="671.32" y1="609.68" x2="674.6" y2="609.68" stroke="#000" stroke-width="0.98" />
<line x1="671.32" y1="588.9" x2="674.6" y2="588.9" stroke="#000" stroke-width="0.98" />
<line x1="671.32" y1="574.16" x2="674.6" y2="574.16" stroke="#000" stroke-width="0.98" />
<line x1="671.32" y1="562.72" x2="674.6" y2="562.72" stroke="#000" stroke-width="0.98" />
<line x1="671.32" y1="553.38" x2="674.6" y2="553.38" stroke="#000" stroke-width="0.98" />
<line x1="671.32" y1="545.48" x2="674.6" y2="545.48" stroke="#000" stroke-width="0.98" />
<line x1="671.32" y1="538.64" x2="674.6" y2="538.64" stroke="#000" stroke-width="0.98" />
<line x1="671.32" y1="532.6" x2="674.6" y2="532.6" stroke="#000" stroke-width="0.98" />
<line x1="668.86" y1="527.2" x2="674.6" y2="527.2" stroke="#000" stroke-width="1.31" />
<line x1="671.32" y1="491.68" x2="674.6" y2="491.68" stroke="#000" stroke-width="0.98" />
<line x1="671.32" y1="470.9" x2="674.6" y2="470.9" stroke="#000" stroke-width="0.98" />
<line x1="671.32" y1="456.16" x2="674.6" y2="456.16" stroke="#000" stroke-width="0.98" />
<line x1="671.32" y1="444.72" x2="674.6" y2="444.72" stroke="#000" stroke-width="0.98" />
<line x1="671.32" y1="435.38" x2="674.6" y2="435.38" stroke="#000" stroke-width="0.98" />
<line x1="671.32" y1="427.48" x2="674.6" y2="427.48" stroke="#000" stroke-width="0.98" />
<line x1="671.32" y1="420.64" x2="674.6" y2="420.64" stroke="#000" stroke-width="0.98" />
<line x1="671.32" y1="414.6" x2="674.6" y2="414.6" stroke="#000" stroke-width="0.98" />
<line x1="668.86" y1="409.2" x2="674.6" y2="409.2" stroke="#000" stroke-width="1.31" />
<line x1="671.32" y1="373.68" x2="674.6" y2="373.68" stroke="#000" stroke-width="0.98" />
<line x1="671.32" y1="352.9" x2="674.6" y2="352.9" stroke="#000" stroke-width="0.98" />
<line x1="671.32" y1="338.16" x2="674.6" y2="338.16" stroke="#000" stroke-width="0.98" />
<line x1="671.32" y1="326.72" x2="674.6" y2="326.72" stroke="#000" stroke-width="0.98" />
<line x1="671.32" y1="317.38" x2="674.6" y2="317.38" stroke="#000" stroke-width="0.98" />
<line x1="671.32" y1="309.48" x2="674.6" y2="309.48" stroke="#000" stroke-width="0.98" />
<line x1="671.32" y1="302.64" x2="674.6" y2="302.64" stroke="#000" stroke-width="0.98" />
<line x1="671.32" y1="296.6" x2="674.6" y2="296.6" stroke="#000" stroke-width="0.98" />
<line x1="668.86" y1="291.2" x2="674.6" y2="291.2" stroke="#000" stroke-width="1.31" />
<text x="633.34" y="651.6" font-size="16.55" font-family="'DejaVu Sans', sans-serif">10<tspan dy="-6.6" font-size="11.58">0</tspan></text>
<text x="633.64" y="533.6" font-size="16.55" font-family="'DejaVu Sans', sans-serif">10<tspan dy="-6.6" font-size="11.58">1</tspan></text>
<text x="633.73" y="415.25" font-size="16.55" font-family="'DejaVu Sans', sans-serif">10<tspan dy="-6.6" font-size="11.58">2</tspan></text>
<text x="633.5" y="297.25" font-size="16.55" font-family="'DejaVu Sans', sans-serif">10<tspan dy="-6.6" font-size="11.58">3</tspan></text>
<text transform="translate(621.3,560.83) rotate(-90)" font-size="19.7" font-family="'DejaVu Sans', sans-serif">Modulus / Ω</text>
<line x1="1274.06" y1="277.7" x2="1279.8" y2="277.7" stroke="#000" stroke-width="1.31" />
<text x="1233.37" y="283.74" font-size="16.55" font-family="'DejaVu Sans', sans-serif" text-anchor="start" >−90</text>
<line x1="1274.06" y1="327.7" x2="1279.8" y2="327.7" stroke="#000" stroke-width="1.31" />
<text x="1233.37" y="333.74" font-size="16.55" font-family="'DejaVu Sans', sans-serif" text-anchor="start" >−80</text>
<line x1="1274.06" y1="377.7" x2="1279.8" y2="377.7" stroke="#000" stroke-width="1.31" />
<text x="1233.37" y="383.74" font-size="16.55" font-family="'DejaVu Sans', sans-serif" text-anchor="start" >−70</text>
<line x1="1274.06" y1="427.7" x2="1279.8" y2="427.7" stroke="#000" stroke-width="1.31" />
<text x="1233.37" y="433.74" font-size="16.55" font-family="'DejaVu Sans', sans-serif" text-anchor="start" >−60</text>
<line x1="1274.06" y1="477.7" x2="1279.8" y2="477.7" stroke="#000" stroke-width="1.31" />
<text x="1233.37" y="483.74" font-size="16.55" font-family="'DejaVu Sans', sans-serif" text-anchor="start" >−50</text>
<line x1="1274.06" y1="527.7" x2="1279.8" y2="527.7" stroke="#000" stroke-width="1.31" />
<text x="1233.37" y="533.74" font-size="16.55" font-family="'DejaVu Sans', sans-serif" text-anchor="start" >−40</text>
<line x1="1274.06" y1="577.7" x2="1279.8" y2="577.7" stroke="#000" stroke-width="1.31" />
<text x="1233.37" y="583.74" font-size="16.55" font-family="'DejaVu Sans', sans-serif" text-anchor="start" >−30</text>
<line x1="1274.06" y1="627.7" x2="1279.8" y2="627.7" stroke="#000" stroke-width="1.31" />
<text x="1233.37" y="633.74" font-size="16.55" font-family="'DejaVu Sans', sans-serif" text-anchor="start" >−20</text>
<line x1="1274.06" y1="677.7" x2="1279.8" y2="677.7" stroke="#000" stroke-width="1.31" />
<text x="1233.37" y="683.74" font-size="16.55" font-family="'DejaVu Sans', sans-serif" text-anchor="start" >−10</text>
<line x1="1274.06" y1="727.7" x2="1279.8" y2="727.7" stroke="#000" stroke-width="1.31" />
<text x="1257.77" y="733.74" font-size="16.55" font-family="'DejaVu Sans', sans-serif" text-anchor="start" >0</text>
<text transform="translate(1220.9,547.25) rotate(-90)" font-size="19.7" font-family="'DejaVu Sans', sans-serif">Phase / °</text>
<text transform="translate(244.1,1159) scale(1,1.074)" font-size="57" font-family="'Liberation Serif', 'DejaVu Serif', serif">(</text>
<text x="263" y="1159" font-size="56" font-family="'Liberation Serif', 'DejaVu Serif', serif" text-anchor="start" >a</text>
<text transform="translate(289.7,1159) scale(1,1.074)" font-size="57" font-family="'Liberation Serif', 'DejaVu Serif', serif">)</text>
<text transform="translate(1161.3,871.4) scale(1,1.074)" font-size="57" font-family="'Liberation Serif', 'DejaVu Serif', serif">(</text>
<text x="1181.5" y="871.4" font-size="56" font-family="'Liberation Serif', 'DejaVu Serif', serif" text-anchor="start" >b</text>
<text transform="translate(1210.3,871.4) scale(1,1.074)" font-size="57" font-family="'Liberation Serif', 'DejaVu Serif', serif">)</text>
</svg></body></html>
